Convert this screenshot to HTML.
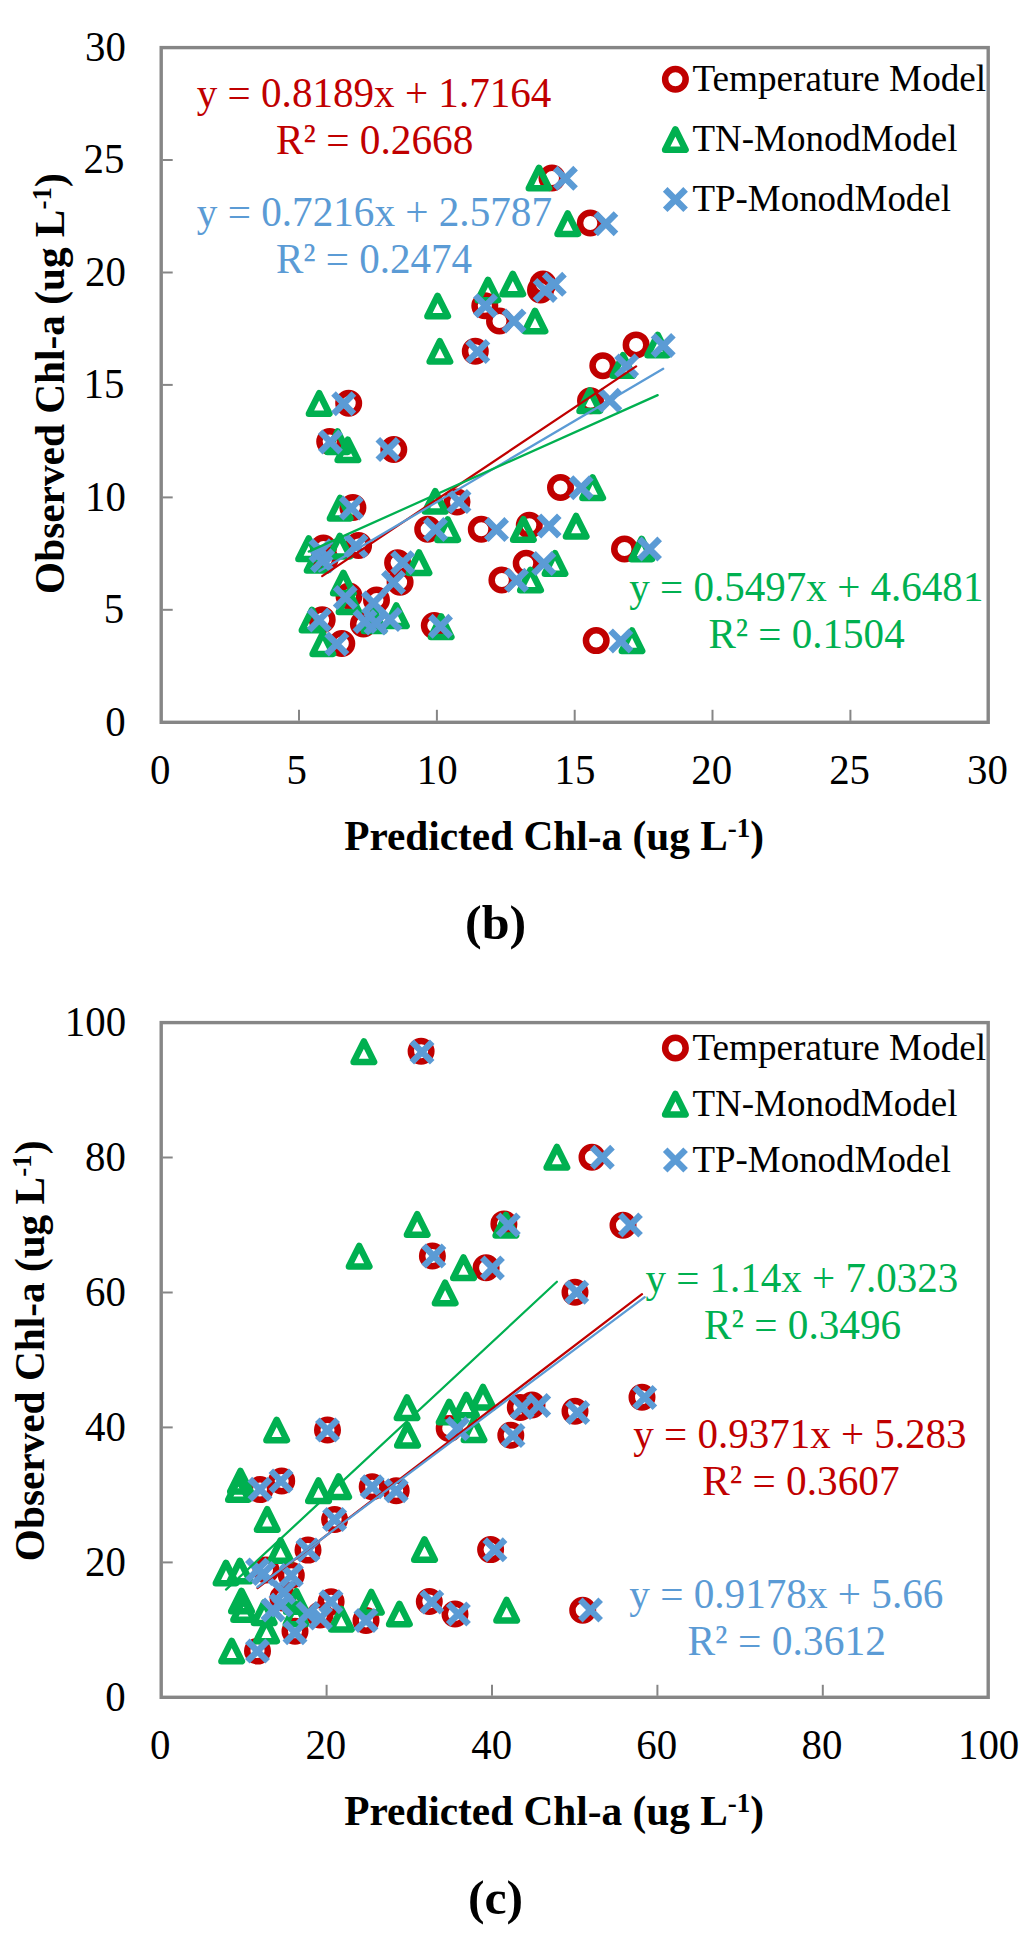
<!DOCTYPE html>
<html><head><meta charset="utf-8"><style>
html,body{margin:0;padding:0;background:#fff;}
svg{display:block;}
text{font-family:"Liberation Serif",serif;}
.tk{font-size:42.5px;fill:#000;}
.ti{font-size:41.5px;font-weight:bold;fill:#000;}
.lb{font-size:50.5px;font-weight:bold;fill:#000;}
.lg{font-size:36.9px;fill:#000;}
.eq{font-size:41px;}
</style></head><body>
<svg width="1024" height="1935" viewBox="0 0 1024 1935">
<rect width="1024" height="1935" fill="#fff"/>
<rect x="161.2" y="47.6" width="827.0" height="674.6999999999999" fill="none" stroke="#868686" stroke-width="3.4"/>
<line x1="162.7" y1="609.8" x2="172.7" y2="609.8" stroke="#868686" stroke-width="2"/>
<line x1="162.7" y1="497.4" x2="172.7" y2="497.4" stroke="#868686" stroke-width="2"/>
<line x1="162.7" y1="384.9" x2="172.7" y2="384.9" stroke="#868686" stroke-width="2"/>
<line x1="162.7" y1="272.5" x2="172.7" y2="272.5" stroke="#868686" stroke-width="2"/>
<line x1="162.7" y1="160.0" x2="172.7" y2="160.0" stroke="#868686" stroke-width="2"/>
<line x1="299.0" y1="720.8" x2="299.0" y2="709.8" stroke="#868686" stroke-width="2"/>
<line x1="436.9" y1="720.8" x2="436.9" y2="709.8" stroke="#868686" stroke-width="2"/>
<line x1="574.7" y1="720.8" x2="574.7" y2="709.8" stroke="#868686" stroke-width="2"/>
<line x1="712.5" y1="720.8" x2="712.5" y2="709.8" stroke="#868686" stroke-width="2"/>
<line x1="850.4" y1="720.8" x2="850.4" y2="709.8" stroke="#868686" stroke-width="2"/>
<text x="105.16" y="735.50" font-size="42.5" textLength="20.44" lengthAdjust="spacingAndGlyphs">0</text>
<text x="103.66" y="623.05" font-size="42.5" textLength="20.44" lengthAdjust="spacingAndGlyphs">5</text>
<text x="84.96" y="510.60" font-size="42.5" textLength="40.88" lengthAdjust="spacingAndGlyphs">10</text>
<text x="83.46" y="398.15" font-size="42.5" textLength="40.88" lengthAdjust="spacingAndGlyphs">15</text>
<text x="84.96" y="285.70" font-size="42.5" textLength="40.88" lengthAdjust="spacingAndGlyphs">20</text>
<text x="83.46" y="173.25" font-size="42.5" textLength="40.88" lengthAdjust="spacingAndGlyphs">25</text>
<text x="84.96" y="60.80" font-size="42.5" textLength="40.88" lengthAdjust="spacingAndGlyphs">30</text>
<text x="150.12" y="784.30" font-size="42.5" textLength="20.44" lengthAdjust="spacingAndGlyphs">0</text>
<text x="286.45" y="784.30" font-size="42.5" textLength="20.44" lengthAdjust="spacingAndGlyphs">5</text>
<text x="416.72" y="784.30" font-size="42.5" textLength="40.88" lengthAdjust="spacingAndGlyphs">10</text>
<text x="554.56" y="784.30" font-size="42.5" textLength="40.88" lengthAdjust="spacingAndGlyphs">15</text>
<text x="691.35" y="784.30" font-size="42.5" textLength="40.88" lengthAdjust="spacingAndGlyphs">20</text>
<text x="829.18" y="784.30" font-size="42.5" textLength="40.88" lengthAdjust="spacingAndGlyphs">25</text>
<text x="967.02" y="784.30" font-size="42.5" textLength="40.88" lengthAdjust="spacingAndGlyphs">30</text>
<text x="344.2" y="849.8" font-size="41.3" font-weight="bold">Predicted Chl-a (ug L<tspan font-size="27" dy="-12.6">-1</tspan><tspan dy="12.6">)</tspan></text>
<text transform="translate(63.8 593.9) rotate(-90)" font-size="41.3" font-weight="bold">Observed Chl-a (ug L<tspan font-size="27" dy="-12.6">-1</tspan><tspan dy="12.6">)</tspan></text>
<circle cx="552.0" cy="178.0" r="10.25" fill="none" stroke="#C00000" stroke-width="6.5"/>
<circle cx="590.3" cy="223.0" r="10.25" fill="none" stroke="#C00000" stroke-width="6.5"/>
<circle cx="543.0" cy="284.0" r="10.25" fill="none" stroke="#C00000" stroke-width="6.5"/>
<circle cx="540.5" cy="290.0" r="10.25" fill="none" stroke="#C00000" stroke-width="6.5"/>
<circle cx="484.8" cy="305.7" r="10.25" fill="none" stroke="#C00000" stroke-width="6.5"/>
<circle cx="499.5" cy="321.0" r="10.25" fill="none" stroke="#C00000" stroke-width="6.5"/>
<circle cx="475.3" cy="351.2" r="10.25" fill="none" stroke="#C00000" stroke-width="6.5"/>
<circle cx="636.1" cy="344.9" r="10.25" fill="none" stroke="#C00000" stroke-width="6.5"/>
<circle cx="602.8" cy="365.7" r="10.25" fill="none" stroke="#C00000" stroke-width="6.5"/>
<circle cx="590.5" cy="400.8" r="10.25" fill="none" stroke="#C00000" stroke-width="6.5"/>
<circle cx="348.7" cy="403.2" r="10.25" fill="none" stroke="#C00000" stroke-width="6.5"/>
<circle cx="329.7" cy="441.5" r="10.25" fill="none" stroke="#C00000" stroke-width="6.5"/>
<circle cx="393.8" cy="449.5" r="10.25" fill="none" stroke="#C00000" stroke-width="6.5"/>
<circle cx="560.5" cy="487.5" r="10.25" fill="none" stroke="#C00000" stroke-width="6.5"/>
<circle cx="457.0" cy="502.0" r="10.25" fill="none" stroke="#C00000" stroke-width="6.5"/>
<circle cx="352.9" cy="507.5" r="10.25" fill="none" stroke="#C00000" stroke-width="6.5"/>
<circle cx="427.7" cy="529.3" r="10.25" fill="none" stroke="#C00000" stroke-width="6.5"/>
<circle cx="481.3" cy="529.3" r="10.25" fill="none" stroke="#C00000" stroke-width="6.5"/>
<circle cx="529.3" cy="525.3" r="10.25" fill="none" stroke="#C00000" stroke-width="6.5"/>
<circle cx="358.6" cy="545.5" r="10.25" fill="none" stroke="#C00000" stroke-width="6.5"/>
<circle cx="323.4" cy="548.1" r="10.25" fill="none" stroke="#C00000" stroke-width="6.5"/>
<circle cx="325.0" cy="559.0" r="10.25" fill="none" stroke="#C00000" stroke-width="6.5"/>
<circle cx="624.5" cy="549.0" r="10.25" fill="none" stroke="#C00000" stroke-width="6.5"/>
<circle cx="526.2" cy="563.2" r="10.25" fill="none" stroke="#C00000" stroke-width="6.5"/>
<circle cx="397.6" cy="562.7" r="10.25" fill="none" stroke="#C00000" stroke-width="6.5"/>
<circle cx="501.9" cy="580.0" r="10.25" fill="none" stroke="#C00000" stroke-width="6.5"/>
<circle cx="400.1" cy="582.2" r="10.25" fill="none" stroke="#C00000" stroke-width="6.5"/>
<circle cx="376.5" cy="600.0" r="10.25" fill="none" stroke="#C00000" stroke-width="6.5"/>
<circle cx="363.4" cy="624.0" r="10.25" fill="none" stroke="#C00000" stroke-width="6.5"/>
<circle cx="322.2" cy="619.7" r="10.25" fill="none" stroke="#C00000" stroke-width="6.5"/>
<circle cx="341.8" cy="643.5" r="10.25" fill="none" stroke="#C00000" stroke-width="6.5"/>
<circle cx="434.3" cy="625.6" r="10.25" fill="none" stroke="#C00000" stroke-width="6.5"/>
<circle cx="596.2" cy="640.6" r="10.25" fill="none" stroke="#C00000" stroke-width="6.5"/>
<circle cx="349.0" cy="596.0" r="10.25" fill="none" stroke="#C00000" stroke-width="6.5"/>
<path d="M539.0 167.8L549.2 188.2L528.8 188.2Z" fill="none" stroke="#00B050" stroke-width="6.5" stroke-linejoin="round"/>
<path d="M567.7 213.4L578.0 233.9L557.5 233.9Z" fill="none" stroke="#00B050" stroke-width="6.5" stroke-linejoin="round"/>
<path d="M512.8 273.8L523.0 294.2L502.5 294.2Z" fill="none" stroke="#00B050" stroke-width="6.5" stroke-linejoin="round"/>
<path d="M488.0 279.8L498.2 300.2L477.8 300.2Z" fill="none" stroke="#00B050" stroke-width="6.5" stroke-linejoin="round"/>
<path d="M437.6 295.8L447.9 316.2L427.4 316.2Z" fill="none" stroke="#00B050" stroke-width="6.5" stroke-linejoin="round"/>
<path d="M535.0 310.8L545.2 331.2L524.8 331.2Z" fill="none" stroke="#00B050" stroke-width="6.5" stroke-linejoin="round"/>
<path d="M439.8 341.1L450.1 361.6L429.6 361.6Z" fill="none" stroke="#00B050" stroke-width="6.5" stroke-linejoin="round"/>
<path d="M657.7 334.8L668.0 355.2L647.5 355.2Z" fill="none" stroke="#00B050" stroke-width="6.5" stroke-linejoin="round"/>
<path d="M623.0 355.2L633.2 375.8L612.8 375.8Z" fill="none" stroke="#00B050" stroke-width="6.5" stroke-linejoin="round"/>
<path d="M589.8 390.4L600.0 410.9L579.5 410.9Z" fill="none" stroke="#00B050" stroke-width="6.5" stroke-linejoin="round"/>
<path d="M319.2 393.2L329.4 413.8L308.9 413.8Z" fill="none" stroke="#00B050" stroke-width="6.5" stroke-linejoin="round"/>
<path d="M337.6 431.4L347.9 451.9L327.4 451.9Z" fill="none" stroke="#00B050" stroke-width="6.5" stroke-linejoin="round"/>
<path d="M347.8 439.6L358.1 460.1L337.6 460.1Z" fill="none" stroke="#00B050" stroke-width="6.5" stroke-linejoin="round"/>
<path d="M592.6 477.4L602.9 497.9L582.4 497.9Z" fill="none" stroke="#00B050" stroke-width="6.5" stroke-linejoin="round"/>
<path d="M435.2 491.1L445.4 511.6L424.9 511.6Z" fill="none" stroke="#00B050" stroke-width="6.5" stroke-linejoin="round"/>
<path d="M340.1 497.9L350.4 518.4L329.9 518.4Z" fill="none" stroke="#00B050" stroke-width="6.5" stroke-linejoin="round"/>
<path d="M447.7 519.4L457.9 539.9L437.4 539.9Z" fill="none" stroke="#00B050" stroke-width="6.5" stroke-linejoin="round"/>
<path d="M523.4 519.2L533.6 539.8L513.1 539.8Z" fill="none" stroke="#00B050" stroke-width="6.5" stroke-linejoin="round"/>
<path d="M576.1 516.0L586.4 536.5L565.9 536.5Z" fill="none" stroke="#00B050" stroke-width="6.5" stroke-linejoin="round"/>
<path d="M339.8 535.9L350.1 556.4L329.6 556.4Z" fill="none" stroke="#00B050" stroke-width="6.5" stroke-linejoin="round"/>
<path d="M308.7 538.5L318.9 559.0L298.4 559.0Z" fill="none" stroke="#00B050" stroke-width="6.5" stroke-linejoin="round"/>
<path d="M317.2 550.1L327.4 570.6L306.9 570.6Z" fill="none" stroke="#00B050" stroke-width="6.5" stroke-linejoin="round"/>
<path d="M641.7 538.8L652.0 559.2L631.5 559.2Z" fill="none" stroke="#00B050" stroke-width="6.5" stroke-linejoin="round"/>
<path d="M555.0 553.2L565.2 573.8L544.8 573.8Z" fill="none" stroke="#00B050" stroke-width="6.5" stroke-linejoin="round"/>
<path d="M419.0 552.5L429.2 573.0L408.8 573.0Z" fill="none" stroke="#00B050" stroke-width="6.5" stroke-linejoin="round"/>
<path d="M530.5 569.8L540.8 590.2L520.2 590.2Z" fill="none" stroke="#00B050" stroke-width="6.5" stroke-linejoin="round"/>
<path d="M343.4 572.8L353.6 593.2L333.1 593.2Z" fill="none" stroke="#00B050" stroke-width="6.5" stroke-linejoin="round"/>
<path d="M349.0 591.5L359.2 612.0L338.8 612.0Z" fill="none" stroke="#00B050" stroke-width="6.5" stroke-linejoin="round"/>
<path d="M312.0 609.8L322.2 630.2L301.8 630.2Z" fill="none" stroke="#00B050" stroke-width="6.5" stroke-linejoin="round"/>
<path d="M322.8 633.4L333.1 653.9L312.6 653.9Z" fill="none" stroke="#00B050" stroke-width="6.5" stroke-linejoin="round"/>
<path d="M441.2 616.5L451.4 637.0L430.9 637.0Z" fill="none" stroke="#00B050" stroke-width="6.5" stroke-linejoin="round"/>
<path d="M632.0 630.5L642.2 651.0L621.8 651.0Z" fill="none" stroke="#00B050" stroke-width="6.5" stroke-linejoin="round"/>
<path d="M396.3 605.5L406.6 626.0L386.1 626.0Z" fill="none" stroke="#00B050" stroke-width="6.5" stroke-linejoin="round"/>
<path d="M374.0 610.5L384.2 631.0L363.8 631.0Z" fill="none" stroke="#00B050" stroke-width="6.5" stroke-linejoin="round"/>
<path d="M555.2 168.1L575.6 188.5M555.2 188.5L575.6 168.1" stroke="#5B9BD5" stroke-width="6.5" fill="none"/>
<path d="M595.6 213.5L616.0 233.9M595.6 233.9L616.0 213.5" stroke="#5B9BD5" stroke-width="6.5" fill="none"/>
<path d="M544.1 274.1L564.5 294.5M544.1 294.5L564.5 274.1" stroke="#5B9BD5" stroke-width="6.5" fill="none"/>
<path d="M535.0 280.2L555.4 300.6M535.0 300.6L555.4 280.2" stroke="#5B9BD5" stroke-width="6.5" fill="none"/>
<path d="M475.3 295.5L495.7 315.9M475.3 315.9L495.7 295.5" stroke="#5B9BD5" stroke-width="6.5" fill="none"/>
<path d="M503.8 310.8L524.2 331.2M503.8 331.2L524.2 310.8" stroke="#5B9BD5" stroke-width="6.5" fill="none"/>
<path d="M467.6 341.3L488.0 361.7M467.6 361.7L488.0 341.3" stroke="#5B9BD5" stroke-width="6.5" fill="none"/>
<path d="M653.0 335.2L673.4 355.6M653.0 355.6L673.4 335.2" stroke="#5B9BD5" stroke-width="6.5" fill="none"/>
<path d="M616.4 355.8L636.8 376.2M616.4 376.2L636.8 355.8" stroke="#5B9BD5" stroke-width="6.5" fill="none"/>
<path d="M599.6 390.1L620.0 410.5M599.6 410.5L620.0 390.1" stroke="#5B9BD5" stroke-width="6.5" fill="none"/>
<path d="M333.5 393.5L353.9 413.9M333.5 413.9L353.9 393.5" stroke="#5B9BD5" stroke-width="6.5" fill="none"/>
<path d="M320.2 431.7L340.6 452.1M320.2 452.1L340.6 431.7" stroke="#5B9BD5" stroke-width="6.5" fill="none"/>
<path d="M377.8 439.3L398.2 459.7M377.8 459.7L398.2 439.3" stroke="#5B9BD5" stroke-width="6.5" fill="none"/>
<path d="M571.0 477.5L591.4 497.9M571.0 497.9L591.4 477.5" stroke="#5B9BD5" stroke-width="6.5" fill="none"/>
<path d="M448.8 491.3L469.2 511.7M448.8 511.7L469.2 491.3" stroke="#5B9BD5" stroke-width="6.5" fill="none"/>
<path d="M341.1 497.8L361.5 518.2M341.1 518.2L361.5 497.8" stroke="#5B9BD5" stroke-width="6.5" fill="none"/>
<path d="M425.3 519.4L445.7 539.8M425.3 539.8L445.7 519.4" stroke="#5B9BD5" stroke-width="6.5" fill="none"/>
<path d="M486.3 519.4L506.7 539.8M486.3 539.8L506.7 519.4" stroke="#5B9BD5" stroke-width="6.5" fill="none"/>
<path d="M538.9 515.8L559.3 536.2M538.9 536.2L559.3 515.8" stroke="#5B9BD5" stroke-width="6.5" fill="none"/>
<path d="M345.8 535.8L366.2 556.2M345.8 556.2L366.2 535.8" stroke="#5B9BD5" stroke-width="6.5" fill="none"/>
<path d="M310.8 540.5L331.2 560.9M310.8 560.9L331.2 540.5" stroke="#5B9BD5" stroke-width="6.5" fill="none"/>
<path d="M312.3 550.5L332.7 570.9M312.3 570.9L332.7 550.5" stroke="#5B9BD5" stroke-width="6.5" fill="none"/>
<path d="M639.3 538.9L659.7 559.3M639.3 559.3L659.7 538.9" stroke="#5B9BD5" stroke-width="6.5" fill="none"/>
<path d="M533.5 553.4L554.0 573.8M533.5 573.8L554.0 553.4" stroke="#5B9BD5" stroke-width="6.5" fill="none"/>
<path d="M392.5 552.5L412.9 572.9M392.5 572.9L412.9 552.5" stroke="#5B9BD5" stroke-width="6.5" fill="none"/>
<path d="M506.3 570.1L526.7 590.5M506.3 590.5L526.7 570.1" stroke="#5B9BD5" stroke-width="6.5" fill="none"/>
<path d="M383.3 572.3L403.7 592.7M383.3 592.7L403.7 572.3" stroke="#5B9BD5" stroke-width="6.5" fill="none"/>
<path d="M363.3 592.8L383.7 613.2M363.3 613.2L383.7 592.8" stroke="#5B9BD5" stroke-width="6.5" fill="none"/>
<path d="M354.8 611.4L375.2 631.8M354.8 631.8L375.2 611.4" stroke="#5B9BD5" stroke-width="6.5" fill="none"/>
<path d="M309.1 609.8L329.5 630.2M309.1 630.2L329.5 609.8" stroke="#5B9BD5" stroke-width="6.5" fill="none"/>
<path d="M326.6 633.9L347.0 654.3M326.6 654.3L347.0 633.9" stroke="#5B9BD5" stroke-width="6.5" fill="none"/>
<path d="M430.3 616.1L450.7 636.5M430.3 636.5L450.7 616.1" stroke="#5B9BD5" stroke-width="6.5" fill="none"/>
<path d="M610.6 630.7L631.0 651.1M610.6 651.1L631.0 630.7" stroke="#5B9BD5" stroke-width="6.5" fill="none"/>
<path d="M335.1 587.3L355.5 607.7M335.1 607.7L355.5 587.3" stroke="#5B9BD5" stroke-width="6.5" fill="none"/>
<path d="M379.8 609.3L400.2 629.7M379.8 629.7L400.2 609.3" stroke="#5B9BD5" stroke-width="6.5" fill="none"/>
<path d="M365.8 612.8L386.2 633.2M365.8 633.2L386.2 612.8" stroke="#5B9BD5" stroke-width="6.5" fill="none"/>
<line x1="322.2" y1="576.1" x2="636.1" y2="366.4" stroke="#C00000" stroke-width="2.25" stroke-linecap="round"/>
<line x1="319.3" y1="571.2" x2="663.2" y2="368.8" stroke="#5B9BD5" stroke-width="2.25" stroke-linecap="round"/>
<line x1="308.7" y1="551.6" x2="657.7" y2="395.1" stroke="#00B050" stroke-width="2.25" stroke-linecap="round"/>
<circle cx="675.4" cy="79.2" r="10.25" fill="none" stroke="#C00000" stroke-width="6.5"/>
<path d="M675.4 129.3L685.6 149.8L665.1 149.8Z" fill="none" stroke="#00B050" stroke-width="6.5" stroke-linejoin="round"/>
<path d="M665.2 189.4L685.6 209.8M665.2 209.8L685.6 189.4" stroke="#5B9BD5" stroke-width="6.5" fill="none"/>
<text x="692.41" y="90.90" font-size="37.5" fill="#000" textLength="293.81" lengthAdjust="spacingAndGlyphs">Temperature Model</text>
<text x="692.41" y="151.00" font-size="37.5" fill="#000" textLength="265.01" lengthAdjust="spacingAndGlyphs">TN-MonodModel</text>
<text x="692.41" y="210.60" font-size="37.5" fill="#000" textLength="258.58" lengthAdjust="spacingAndGlyphs">TP-MonodModel</text>
<text x="196.80" y="106.80" font-size="42.5" fill="#C00000" textLength="354.56" lengthAdjust="spacingAndGlyphs">y = 0.8189x + 1.7164</text>
<text x="275.93" y="153.70" font-size="42.5" fill="#C00000" textLength="197.43" lengthAdjust="spacingAndGlyphs">R² = 0.2668</text>
<text x="196.80" y="225.50" font-size="42.5" fill="#5B9BD5" textLength="355.17" lengthAdjust="spacingAndGlyphs">y = 0.7216x + 2.5787</text>
<text x="275.93" y="272.80" font-size="42.5" fill="#5B9BD5" textLength="196.15" lengthAdjust="spacingAndGlyphs">R² = 0.2474</text>
<text x="629.30" y="600.60" font-size="42.5" fill="#00B050" textLength="354.10" lengthAdjust="spacingAndGlyphs">y = 0.5497x + 4.6481</text>
<text x="708.43" y="647.80" font-size="42.5" fill="#00B050" textLength="196.25" lengthAdjust="spacingAndGlyphs">R² = 0.1504</text>
<text x="465.08" y="939.40" font-size="49.5" font-weight="bold" fill="#000" textLength="61.09" lengthAdjust="spacingAndGlyphs">(b)</text>
<rect x="161.2" y="1022.6" width="827.0" height="674.6999999999999" fill="none" stroke="#868686" stroke-width="3.4"/>
<line x1="162.7" y1="1562.4" x2="172.7" y2="1562.4" stroke="#868686" stroke-width="2"/>
<line x1="162.7" y1="1427.4" x2="172.7" y2="1427.4" stroke="#868686" stroke-width="2"/>
<line x1="162.7" y1="1292.5" x2="172.7" y2="1292.5" stroke="#868686" stroke-width="2"/>
<line x1="162.7" y1="1157.5" x2="172.7" y2="1157.5" stroke="#868686" stroke-width="2"/>
<line x1="326.6" y1="1695.8" x2="326.6" y2="1684.8" stroke="#868686" stroke-width="2"/>
<line x1="492.0" y1="1695.8" x2="492.0" y2="1684.8" stroke="#868686" stroke-width="2"/>
<line x1="657.4" y1="1695.8" x2="657.4" y2="1684.8" stroke="#868686" stroke-width="2"/>
<line x1="822.8" y1="1695.8" x2="822.8" y2="1684.8" stroke="#868686" stroke-width="2"/>
<text x="105.16" y="1710.50" font-size="42.5" textLength="20.44" lengthAdjust="spacingAndGlyphs">0</text>
<text x="84.96" y="1575.56" font-size="42.5" textLength="40.88" lengthAdjust="spacingAndGlyphs">20</text>
<text x="84.96" y="1440.62" font-size="42.5" textLength="40.88" lengthAdjust="spacingAndGlyphs">40</text>
<text x="84.96" y="1305.68" font-size="42.5" textLength="40.88" lengthAdjust="spacingAndGlyphs">60</text>
<text x="84.96" y="1170.74" font-size="42.5" textLength="40.88" lengthAdjust="spacingAndGlyphs">80</text>
<text x="64.76" y="1035.80" font-size="42.5" textLength="61.33" lengthAdjust="spacingAndGlyphs">100</text>
<text x="150.12" y="1759.30" font-size="42.5" textLength="20.44" lengthAdjust="spacingAndGlyphs">0</text>
<text x="305.42" y="1759.30" font-size="42.5" textLength="40.88" lengthAdjust="spacingAndGlyphs">20</text>
<text x="471.30" y="1759.30" font-size="42.5" textLength="40.88" lengthAdjust="spacingAndGlyphs">40</text>
<text x="636.22" y="1759.30" font-size="42.5" textLength="40.88" lengthAdjust="spacingAndGlyphs">60</text>
<text x="801.62" y="1759.30" font-size="42.5" textLength="40.88" lengthAdjust="spacingAndGlyphs">80</text>
<text x="957.95" y="1759.30" font-size="42.5" textLength="61.33" lengthAdjust="spacingAndGlyphs">100</text>
<text x="344.2" y="1824.8" font-size="41.3" font-weight="bold">Predicted Chl-a (ug L<tspan font-size="27" dy="-12.6">-1</tspan><tspan dy="12.6">)</tspan></text>
<text transform="translate(43.5 1561.2) rotate(-90)" font-size="41.3" font-weight="bold">Observed Chl-a (ug L<tspan font-size="27" dy="-12.6">-1</tspan><tspan dy="12.6">)</tspan></text>
<circle cx="421.1" cy="1051.3" r="10.25" fill="none" stroke="#C00000" stroke-width="6.5"/>
<circle cx="592.0" cy="1157.3" r="10.25" fill="none" stroke="#C00000" stroke-width="6.5"/>
<circle cx="503.9" cy="1223.9" r="10.25" fill="none" stroke="#C00000" stroke-width="6.5"/>
<circle cx="623.0" cy="1225.2" r="10.25" fill="none" stroke="#C00000" stroke-width="6.5"/>
<circle cx="432.4" cy="1256.0" r="10.25" fill="none" stroke="#C00000" stroke-width="6.5"/>
<circle cx="486.1" cy="1267.7" r="10.25" fill="none" stroke="#C00000" stroke-width="6.5"/>
<circle cx="575.0" cy="1292.3" r="10.25" fill="none" stroke="#C00000" stroke-width="6.5"/>
<circle cx="642.0" cy="1397.3" r="10.25" fill="none" stroke="#C00000" stroke-width="6.5"/>
<circle cx="520.3" cy="1407.4" r="10.25" fill="none" stroke="#C00000" stroke-width="6.5"/>
<circle cx="532.0" cy="1405.0" r="10.25" fill="none" stroke="#C00000" stroke-width="6.5"/>
<circle cx="575.0" cy="1411.3" r="10.25" fill="none" stroke="#C00000" stroke-width="6.5"/>
<circle cx="449.2" cy="1428.4" r="10.25" fill="none" stroke="#C00000" stroke-width="6.5"/>
<circle cx="510.8" cy="1435.3" r="10.25" fill="none" stroke="#C00000" stroke-width="6.5"/>
<circle cx="327.5" cy="1430.0" r="10.25" fill="none" stroke="#C00000" stroke-width="6.5"/>
<circle cx="260.0" cy="1489.6" r="10.25" fill="none" stroke="#C00000" stroke-width="6.5"/>
<circle cx="281.7" cy="1480.9" r="10.25" fill="none" stroke="#C00000" stroke-width="6.5"/>
<circle cx="372.2" cy="1486.8" r="10.25" fill="none" stroke="#C00000" stroke-width="6.5"/>
<circle cx="396.2" cy="1490.7" r="10.25" fill="none" stroke="#C00000" stroke-width="6.5"/>
<circle cx="334.6" cy="1519.5" r="10.25" fill="none" stroke="#C00000" stroke-width="6.5"/>
<circle cx="308.0" cy="1550.1" r="10.25" fill="none" stroke="#C00000" stroke-width="6.5"/>
<circle cx="490.6" cy="1549.6" r="10.25" fill="none" stroke="#C00000" stroke-width="6.5"/>
<circle cx="266.0" cy="1570.0" r="10.25" fill="none" stroke="#C00000" stroke-width="6.5"/>
<circle cx="291.3" cy="1575.3" r="10.25" fill="none" stroke="#C00000" stroke-width="6.5"/>
<circle cx="283.0" cy="1598.0" r="10.25" fill="none" stroke="#C00000" stroke-width="6.5"/>
<circle cx="331.1" cy="1601.7" r="10.25" fill="none" stroke="#C00000" stroke-width="6.5"/>
<circle cx="320.0" cy="1615.0" r="10.25" fill="none" stroke="#C00000" stroke-width="6.5"/>
<circle cx="295.0" cy="1631.2" r="10.25" fill="none" stroke="#C00000" stroke-width="6.5"/>
<circle cx="366.0" cy="1620.4" r="10.25" fill="none" stroke="#C00000" stroke-width="6.5"/>
<circle cx="429.3" cy="1601.5" r="10.25" fill="none" stroke="#C00000" stroke-width="6.5"/>
<circle cx="455.0" cy="1614.0" r="10.25" fill="none" stroke="#C00000" stroke-width="6.5"/>
<circle cx="582.7" cy="1610.2" r="10.25" fill="none" stroke="#C00000" stroke-width="6.5"/>
<circle cx="257.5" cy="1651.1" r="10.25" fill="none" stroke="#C00000" stroke-width="6.5"/>
<path d="M363.9 1041.5L374.1 1062.0L353.6 1062.0Z" fill="none" stroke="#00B050" stroke-width="6.5" stroke-linejoin="round"/>
<path d="M556.9 1147.0L567.1 1167.5L546.6 1167.5Z" fill="none" stroke="#00B050" stroke-width="6.5" stroke-linejoin="round"/>
<path d="M417.2 1214.2L427.4 1234.8L406.9 1234.8Z" fill="none" stroke="#00B050" stroke-width="6.5" stroke-linejoin="round"/>
<path d="M505.9 1215.0L516.1 1235.5L495.6 1235.5Z" fill="none" stroke="#00B050" stroke-width="6.5" stroke-linejoin="round"/>
<path d="M359.2 1246.0L369.4 1266.5L348.9 1266.5Z" fill="none" stroke="#00B050" stroke-width="6.5" stroke-linejoin="round"/>
<path d="M463.5 1257.5L473.8 1278.0L453.2 1278.0Z" fill="none" stroke="#00B050" stroke-width="6.5" stroke-linejoin="round"/>
<path d="M445.1 1282.7L455.4 1303.2L434.9 1303.2Z" fill="none" stroke="#00B050" stroke-width="6.5" stroke-linejoin="round"/>
<path d="M276.7 1419.8L286.9 1440.2L266.4 1440.2Z" fill="none" stroke="#00B050" stroke-width="6.5" stroke-linejoin="round"/>
<path d="M407.0 1397.5L417.2 1418.0L396.8 1418.0Z" fill="none" stroke="#00B050" stroke-width="6.5" stroke-linejoin="round"/>
<path d="M407.5 1425.0L417.8 1445.5L397.2 1445.5Z" fill="none" stroke="#00B050" stroke-width="6.5" stroke-linejoin="round"/>
<path d="M449.2 1401.8L459.4 1422.2L438.9 1422.2Z" fill="none" stroke="#00B050" stroke-width="6.5" stroke-linejoin="round"/>
<path d="M466.4 1394.8L476.6 1415.2L456.1 1415.2Z" fill="none" stroke="#00B050" stroke-width="6.5" stroke-linejoin="round"/>
<path d="M483.0 1387.0L493.2 1407.5L472.8 1407.5Z" fill="none" stroke="#00B050" stroke-width="6.5" stroke-linejoin="round"/>
<path d="M474.0 1419.5L484.2 1440.0L463.8 1440.0Z" fill="none" stroke="#00B050" stroke-width="6.5" stroke-linejoin="round"/>
<path d="M240.4 1471.0L250.7 1491.5L230.2 1491.5Z" fill="none" stroke="#00B050" stroke-width="6.5" stroke-linejoin="round"/>
<path d="M238.4 1479.2L248.7 1499.7L228.2 1499.7Z" fill="none" stroke="#00B050" stroke-width="6.5" stroke-linejoin="round"/>
<path d="M318.5 1480.5L328.8 1501.0L308.2 1501.0Z" fill="none" stroke="#00B050" stroke-width="6.5" stroke-linejoin="round"/>
<path d="M338.6 1476.5L348.9 1497.0L328.4 1497.0Z" fill="none" stroke="#00B050" stroke-width="6.5" stroke-linejoin="round"/>
<path d="M267.2 1509.2L277.4 1529.8L256.9 1529.8Z" fill="none" stroke="#00B050" stroke-width="6.5" stroke-linejoin="round"/>
<path d="M280.6 1540.3L290.9 1560.8L270.4 1560.8Z" fill="none" stroke="#00B050" stroke-width="6.5" stroke-linejoin="round"/>
<path d="M424.5 1539.3L434.8 1559.8L414.2 1559.8Z" fill="none" stroke="#00B050" stroke-width="6.5" stroke-linejoin="round"/>
<path d="M226.0 1562.8L236.2 1583.2L215.8 1583.2Z" fill="none" stroke="#00B050" stroke-width="6.5" stroke-linejoin="round"/>
<path d="M239.9 1560.8L250.2 1581.3L229.7 1581.3Z" fill="none" stroke="#00B050" stroke-width="6.5" stroke-linejoin="round"/>
<path d="M241.5 1590.8L251.8 1611.2L231.2 1611.2Z" fill="none" stroke="#00B050" stroke-width="6.5" stroke-linejoin="round"/>
<path d="M243.7 1599.2L253.9 1619.8L233.4 1619.8Z" fill="none" stroke="#00B050" stroke-width="6.5" stroke-linejoin="round"/>
<path d="M264.1 1602.5L274.4 1623.0L253.9 1623.0Z" fill="none" stroke="#00B050" stroke-width="6.5" stroke-linejoin="round"/>
<path d="M266.5 1620.8L276.8 1641.2L256.2 1641.2Z" fill="none" stroke="#00B050" stroke-width="6.5" stroke-linejoin="round"/>
<path d="M296.4 1591.2L306.6 1611.8L286.1 1611.8Z" fill="none" stroke="#00B050" stroke-width="6.5" stroke-linejoin="round"/>
<path d="M341.3 1609.0L351.6 1629.5L331.1 1629.5Z" fill="none" stroke="#00B050" stroke-width="6.5" stroke-linejoin="round"/>
<path d="M371.3 1592.0L381.6 1612.5L361.1 1612.5Z" fill="none" stroke="#00B050" stroke-width="6.5" stroke-linejoin="round"/>
<path d="M399.4 1603.8L409.6 1624.2L389.1 1624.2Z" fill="none" stroke="#00B050" stroke-width="6.5" stroke-linejoin="round"/>
<path d="M231.7 1640.8L241.9 1661.3L221.4 1661.3Z" fill="none" stroke="#00B050" stroke-width="6.5" stroke-linejoin="round"/>
<path d="M506.6 1600.0L516.9 1620.5L496.4 1620.5Z" fill="none" stroke="#00B050" stroke-width="6.5" stroke-linejoin="round"/>
<path d="M296.0 1603.8L306.2 1624.2L285.8 1624.2Z" fill="none" stroke="#00B050" stroke-width="6.5" stroke-linejoin="round"/>
<path d="M411.8 1041.8L432.2 1062.2M411.8 1062.2L432.2 1041.8" stroke="#5B9BD5" stroke-width="6.5" fill="none"/>
<path d="M592.1 1147.1L612.5 1167.5M592.1 1167.5L612.5 1147.1" stroke="#5B9BD5" stroke-width="6.5" fill="none"/>
<path d="M498.1 1214.8L518.5 1235.2M498.1 1235.2L518.5 1214.8" stroke="#5B9BD5" stroke-width="6.5" fill="none"/>
<path d="M620.2 1214.8L640.6 1235.2M620.2 1235.2L640.6 1214.8" stroke="#5B9BD5" stroke-width="6.5" fill="none"/>
<path d="M423.6 1245.8L444.0 1266.2M423.6 1266.2L444.0 1245.8" stroke="#5B9BD5" stroke-width="6.5" fill="none"/>
<path d="M482.2 1257.8L502.6 1278.2M482.2 1278.2L502.6 1257.8" stroke="#5B9BD5" stroke-width="6.5" fill="none"/>
<path d="M566.5 1282.0L586.9 1302.4M566.5 1302.4L586.9 1282.0" stroke="#5B9BD5" stroke-width="6.5" fill="none"/>
<path d="M634.5 1387.3L654.9 1407.7M634.5 1407.7L654.9 1387.3" stroke="#5B9BD5" stroke-width="6.5" fill="none"/>
<path d="M511.9 1397.3L532.3 1417.7M511.9 1417.7L532.3 1397.3" stroke="#5B9BD5" stroke-width="6.5" fill="none"/>
<path d="M528.5 1395.3L548.9 1415.7M528.5 1415.7L548.9 1395.3" stroke="#5B9BD5" stroke-width="6.5" fill="none"/>
<path d="M567.5 1402.4L587.9 1422.8M567.5 1422.8L587.9 1402.4" stroke="#5B9BD5" stroke-width="6.5" fill="none"/>
<path d="M447.3 1418.6L467.7 1439.0M447.3 1439.0L467.7 1418.6" stroke="#5B9BD5" stroke-width="6.5" fill="none"/>
<path d="M502.8 1425.3L523.2 1445.7M502.8 1445.7L523.2 1425.3" stroke="#5B9BD5" stroke-width="6.5" fill="none"/>
<path d="M317.3 1419.8L337.7 1440.2M317.3 1440.2L337.7 1419.8" stroke="#5B9BD5" stroke-width="6.5" fill="none"/>
<path d="M249.8 1479.1L270.2 1499.5M249.8 1499.5L270.2 1479.1" stroke="#5B9BD5" stroke-width="6.5" fill="none"/>
<path d="M270.8 1470.8L291.2 1491.2M270.8 1491.2L291.2 1470.8" stroke="#5B9BD5" stroke-width="6.5" fill="none"/>
<path d="M362.0 1476.6L382.4 1497.0M362.0 1497.0L382.4 1476.6" stroke="#5B9BD5" stroke-width="6.5" fill="none"/>
<path d="M386.0 1480.5L406.4 1500.9M386.0 1500.9L406.4 1480.5" stroke="#5B9BD5" stroke-width="6.5" fill="none"/>
<path d="M324.4 1509.3L344.8 1529.7M324.4 1529.7L344.8 1509.3" stroke="#5B9BD5" stroke-width="6.5" fill="none"/>
<path d="M297.8 1539.9L318.2 1560.3M297.8 1560.3L318.2 1539.9" stroke="#5B9BD5" stroke-width="6.5" fill="none"/>
<path d="M484.7 1539.6L505.1 1560.0M484.7 1560.0L505.1 1539.6" stroke="#5B9BD5" stroke-width="6.5" fill="none"/>
<path d="M247.3 1559.8L267.7 1580.2M247.3 1580.2L267.7 1559.8" stroke="#5B9BD5" stroke-width="6.5" fill="none"/>
<path d="M253.3 1563.3L273.7 1583.7M253.3 1583.7L273.7 1563.3" stroke="#5B9BD5" stroke-width="6.5" fill="none"/>
<path d="M281.1 1565.1L301.5 1585.5M281.1 1585.5L301.5 1565.1" stroke="#5B9BD5" stroke-width="6.5" fill="none"/>
<path d="M273.6 1582.4L294.0 1602.8M273.6 1602.8L294.0 1582.4" stroke="#5B9BD5" stroke-width="6.5" fill="none"/>
<path d="M262.8 1599.8L283.2 1620.2M262.8 1620.2L283.2 1599.8" stroke="#5B9BD5" stroke-width="6.5" fill="none"/>
<path d="M284.8 1622.5L305.2 1642.9M284.8 1642.9L305.2 1622.5" stroke="#5B9BD5" stroke-width="6.5" fill="none"/>
<path d="M297.8 1603.3L318.2 1623.7M297.8 1623.7L318.2 1603.3" stroke="#5B9BD5" stroke-width="6.5" fill="none"/>
<path d="M310.3 1607.8L330.7 1628.2M310.3 1628.2L330.7 1607.8" stroke="#5B9BD5" stroke-width="6.5" fill="none"/>
<path d="M270.8 1594.8L291.2 1615.2M270.8 1615.2L291.2 1594.8" stroke="#5B9BD5" stroke-width="6.5" fill="none"/>
<path d="M320.8 1591.5L341.2 1611.9M320.8 1611.9L341.2 1591.5" stroke="#5B9BD5" stroke-width="6.5" fill="none"/>
<path d="M355.8 1610.2L376.2 1630.6M355.8 1630.6L376.2 1610.2" stroke="#5B9BD5" stroke-width="6.5" fill="none"/>
<path d="M421.6 1591.8L442.0 1612.2M421.6 1612.2L442.0 1591.8" stroke="#5B9BD5" stroke-width="6.5" fill="none"/>
<path d="M448.2 1603.8L468.6 1624.2M448.2 1624.2L468.6 1603.8" stroke="#5B9BD5" stroke-width="6.5" fill="none"/>
<path d="M580.3 1599.8L600.7 1620.2M580.3 1620.2L600.7 1599.8" stroke="#5B9BD5" stroke-width="6.5" fill="none"/>
<path d="M247.3 1640.9L267.7 1661.3M247.3 1661.3L267.7 1640.9" stroke="#5B9BD5" stroke-width="6.5" fill="none"/>
<line x1="257.5" y1="1588.0" x2="642.0" y2="1294.1" stroke="#C00000" stroke-width="2.25" stroke-linecap="round"/>
<line x1="257.5" y1="1587.0" x2="644.7" y2="1297.1" stroke="#5B9BD5" stroke-width="2.25" stroke-linecap="round"/>
<line x1="226.0" y1="1589.6" x2="556.9" y2="1281.8" stroke="#00B050" stroke-width="2.25" stroke-linecap="round"/>
<circle cx="675.4" cy="1048.0" r="10.25" fill="none" stroke="#C00000" stroke-width="6.5"/>
<path d="M675.4 1094.0L685.6 1114.5L665.1 1114.5Z" fill="none" stroke="#00B050" stroke-width="6.5" stroke-linejoin="round"/>
<path d="M665.2 1149.8L685.6 1170.2M665.2 1170.2L685.6 1149.8" stroke="#5B9BD5" stroke-width="6.5" fill="none"/>
<text x="692.41" y="1060.00" font-size="37.5" fill="#000" textLength="293.81" lengthAdjust="spacingAndGlyphs">Temperature Model</text>
<text x="692.41" y="1115.70" font-size="37.5" fill="#000" textLength="265.01" lengthAdjust="spacingAndGlyphs">TN-MonodModel</text>
<text x="692.41" y="1172.10" font-size="37.5" fill="#000" textLength="258.58" lengthAdjust="spacingAndGlyphs">TP-MonodModel</text>
<text x="645.50" y="1291.60" font-size="42.5" fill="#00B050" textLength="312.65" lengthAdjust="spacingAndGlyphs">y = 1.14x + 7.0323</text>
<text x="704.03" y="1338.50" font-size="42.5" fill="#00B050" textLength="197.22" lengthAdjust="spacingAndGlyphs">R² = 0.3496</text>
<text x="633.30" y="1448.30" font-size="42.5" fill="#C00000" textLength="333.19" lengthAdjust="spacingAndGlyphs">y = 0.9371x + 5.283</text>
<text x="702.13" y="1494.50" font-size="42.5" fill="#C00000" textLength="197.53" lengthAdjust="spacingAndGlyphs">R² = 0.3607</text>
<text x="629.30" y="1608.40" font-size="42.5" fill="#5B9BD5" textLength="314.05" lengthAdjust="spacingAndGlyphs">y = 0.9178x + 5.66</text>
<text x="687.42" y="1655.40" font-size="42.5" fill="#5B9BD5" textLength="198.51" lengthAdjust="spacingAndGlyphs">R² = 0.3612</text>
<text x="467.99" y="1913.60" font-size="49.5" font-weight="bold" fill="#000" textLength="55.17" lengthAdjust="spacingAndGlyphs">(c)</text>
</svg></body></html>
